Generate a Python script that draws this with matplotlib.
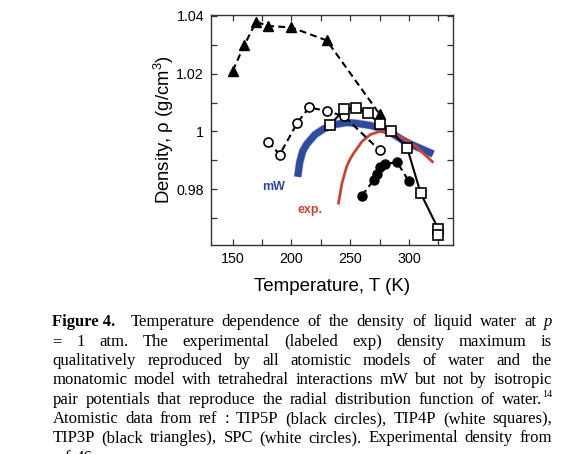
import matplotlib
matplotlib.use("Agg")
import matplotlib.pyplot as plt
from matplotlib.ticker import MultipleLocator, FixedLocator, FixedFormatter

plt.rcParams['font.family'] = ['Liberation Sans', 'DejaVu Sans']
plt.rcParams['mathtext.fontset'] = 'custom'
plt.rcParams['mathtext.rm'] = 'Liberation Sans'
plt.rcParams['mathtext.it'] = 'Liberation Sans:italic'

# ---- data ----
# TIP3P (black triangles)
tip3p_T = [150, 160, 170, 180, 200, 230, 275]
tip3p_rho = [1.021, 1.030, 1.038, 1.0365, 1.036, 1.0315, 1.006]
# SPC (white circles)
spc_T = [180, 190, 205, 215, 230, 245, 275]
spc_rho = [0.9965, 0.992, 1.003, 1.0083, 1.0071, 1.0052, 0.9935]
# TIP5P (black circles)
tip5p_T = [260, 270, 272.5, 275, 280, 290, 300]
tip5p_rho = [0.9778, 0.9832, 0.9852, 0.9878, 0.9888, 0.9893, 0.9827]
# TIP4P (white squares)
tip4p_T = [233, 245, 255, 265, 275, 285, 298.5, 310, 325, 325]
tip4p_rho = [1.0024, 1.0076, 1.0081, 1.0064, 1.0026, 1.0000, 0.9943, 0.9786, 0.9662, 0.9643]
# experiment (red line)
exp_T = [240, 243, 247, 250, 253, 260, 267, 275, 284, 295, 306, 320]
exp_rho = [0.9752, 0.9821, 0.9879, 0.9905, 0.9925, 0.9965, 0.9989, 1.0000, 0.9997, 0.9977, 0.9948, 0.9895]
# mW (blue noisy band, centre line)
mw_T = [205.3, 207, 209.5, 213, 220, 227, 235.6, 247, 255.4, 266.8, 275.3, 283.8, 292.3, 300.8, 312, 320.6]
mw_rho = [0.9843, 0.9893, 0.9931, 0.9956, 0.9989, 1.0008, 1.0023, 1.0031, 1.0028, 1.0021, 1.0012,
          0.9998, 0.9976, 0.9957, 0.9937, 0.9922]

x_ticks = [150, 200, 250, 300]
x_labels = ["150", "200", "250", "300"]
y_ticks = [0.98, 1.00, 1.02, 1.04]
y_labels = ["0.98", "1", "1.02", "1.04"]

W, H = 567, 454
fig = plt.figure(figsize=(W / 100, H / 100), dpi=100)
ax = fig.add_axes([211 / W, 1 - 245 / H, 242 / W, 230 / H])

blue = '#2f4b9e'
red = '#c4463a'
frame = '#3b2f2a'
dash = (0, (3.3, 2.0))

ax.plot(mw_T, mw_rho, color=blue, lw=5.0, solid_capstyle='butt', zorder=2)
ax.plot(mw_T, mw_rho, color=blue, lw=6.0, alpha=0.35, solid_capstyle='butt', zorder=2)
ax.plot(exp_T, exp_rho, color=red, lw=2.0, zorder=3)
ax.plot(tip3p_T, tip3p_rho, ls=dash, color='k', lw=1.5, marker='^', ms=7.5,
        mfc='k', mec='k', zorder=4)
ax.plot(spc_T, spc_rho, ls=dash, color='k', lw=1.5, marker='o', ms=6.5,
        mfc='white', mec='k', mew=1.2, zorder=5)
ax.plot(tip5p_T, tip5p_rho, ls=dash, color='k', lw=1.5, marker='o', ms=6.5,
        mfc='k', mec='k', zorder=5)
ax.plot(tip4p_T, tip4p_rho, ls='-', color='k', lw=1.5, marker='s', ms=6.5,
        mfc='white', mec='k', mew=1.2, zorder=6)

ax.text(175, 0.9798, "mW", color=blue, fontsize=9, fontweight='bold', va='baseline')
ax.text(205.3, 0.9719, "exp.", color=red, fontsize=9, fontweight='bold', va='baseline')

ax.set_xlim(131.5, 337.5)
ax.set_ylim(0.9607, 1.0403)
ax.xaxis.set_major_locator(FixedLocator(x_ticks))
ax.xaxis.set_major_formatter(FixedFormatter(x_labels))
ax.xaxis.set_minor_locator(MultipleLocator(25))
ax.yaxis.set_major_locator(FixedLocator(y_ticks))
ax.yaxis.set_major_formatter(FixedFormatter(y_labels))
ax.yaxis.set_minor_locator(MultipleLocator(0.01))
ax.tick_params(which='both', direction='in', top=True, right=True, length=4.5,
               width=0.9, color=frame, labelsize=10.3, pad=5)
for s in ax.spines.values():
    s.set_color(frame)
    s.set_linewidth(1.0)
ax.set_xlabel("Temperature, T (K)", fontsize=13.5, labelpad=9)
ax.set_ylabel("Density, \u03c1 (g/cm$^3$)", fontsize=13.3, labelpad=0)

# ---- caption, justified word by word ----
def words(s, style='r'):
    return [(w, style, 1) for w in s.split()]

caption = [
    [("Figure 4.", 'b', 0), ("Temperature", 'r', 2)]
    + words("dependence of the density of liquid water at") + [("p", 'i', 1)],
    words("= 1 atm. The experimental (labeled exp) density maximum is"),
    words("qualitatively reproduced by all atomistic models of water and the"),
    words("monatomic model with tetrahedral interactions mW but not by isotropic"),
    words("pair potentials that reproduce the radial distribution function of water.")
    + [("14", 'sup', 0)],
    words("Atomistic data from ref : TIP5P (black circles), TIP4P (white squares),"),
    words("TIP3P (black triangles), SPC (white circles). Experimental density from"),
    words("ref 46."),
]
x0, x1 = 52.5, 552.0
base0, step = 326.5, 19.3
rend = fig.canvas.get_renderer()

def props(style, fs):
    p = dict(family='Liberation Serif', fontsize=fs, va='baseline', ha='left')
    if style == 'b':
        p['fontweight'] = 'bold'
    if style == 'i':
        p['fontstyle'] = 'italic'
    if style == 'sup':
        p['fontsize'] = fs * 0.6
    return p

def width(txt, style, fs):
    t = fig.text(0, 0, txt, **props(style, fs))
    w = t.get_window_extent(rend).width
    t.remove()
    return w

def space(fs):
    return width("a a", 'r', fs) - width("aa", 'r', fs)

# pick the font size so the tightest lines just fit (slightly tight spacing)
fs0 = 10
nat = max(sum(width(w, s, fs0) for w, s, _ in ln) + space(fs0) * sum(g for _, _, g in ln[1:])
          for ln in caption[3:5])
fs = min(12, 1.025 * fs0 * (x1 - x0) / nat)

for i, ln in enumerate(caption):
    yb = base0 + i * step
    ws = [width(w, s, fs) for w, s, _ in ln]
    gaps = sum(g for _, _, g in ln[1:])
    if i < len(caption) - 1:
        unit = (x1 - x0 - sum(ws)) / gaps
    else:
        unit = space(fs)
    x = x0
    for k, (w, s, g) in enumerate(ln):
        if k > 0:
            x += g * unit
        y = yb - (fs * 0.4 * 100 / 72 if s == 'sup' else 0)
        fig.text(x / W, 1 - y / H, w, **props(s, fs))
        x += ws[k]

fig.savefig("out.png", dpi=100)
